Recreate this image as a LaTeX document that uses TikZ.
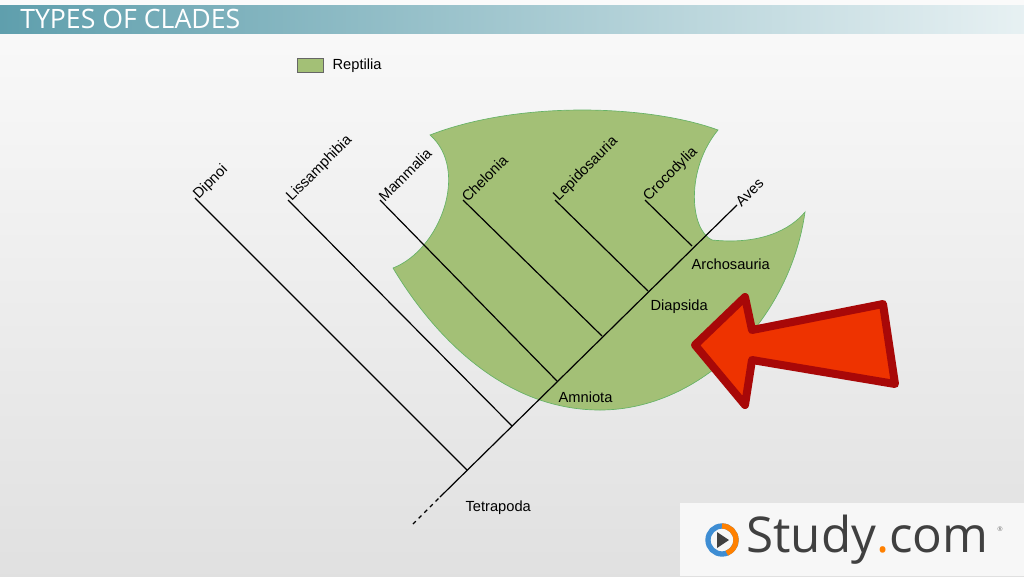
\documentclass[tikz,border=0pt]{standalone}
\usepackage{fontspec}
\setmainfont{Liberation Sans}
\newfontfamily\hdr{Open Sans}
\begin{document}
\begin{tikzpicture}[x=0.75pt,y=-0.75pt,
  br/.style={line width=0.9pt,black},
  lab/.style={font=\fontsize{11}{12}\selectfont,inner sep=1pt},
  tip/.style={lab,rotate=45,anchor=west}]
\definecolor{leaf}{HTML}{A3C076}
\definecolor{teal}{HTML}{5F9FAD}
\definecolor{arr}{HTML}{EE3300}
\definecolor{arrd}{HTML}{A80808}
\useasboundingbox (0,0) rectangle (1024,576);
\shade[top color=white!96!gray,bottom color=black!12] (0,0) rectangle (1024,576);
\shade[left color=teal,right color=teal!15!white] (0,5) rectangle (1024,33);
\node[anchor=west,text=white,font=\hdr\fontsize{20}{22}\selectfont,inner sep=0] (title) at (20,19) {TYPES OF CLADES};
% blob
\fill[leaf] (393,268) .. controls (440,250) and (470,170) .. (430,135)
 .. controls (520,100) and (650,105) .. (718,130)
 .. controls (685,170) and (690,230) .. (712,240)
 .. controls (760,245) and (790,230) .. (805,212)
 .. controls (790,320) and (700,410) .. (600,410)
 .. controls (500,410) and (430,330) .. (393,268) -- cycle;
\draw[draw=black!50!green!60,line width=0.5pt] (393,268) .. controls (440,250) and (470,170) .. (430,135)
 .. controls (520,100) and (650,105) .. (718,130)
 .. controls (685,170) and (690,230) .. (712,240)
 .. controls (760,245) and (790,230) .. (805,212)
 .. controls (790,320) and (700,410) .. (600,410)
 .. controls (500,410) and (430,330) .. (393,268) -- cycle;
% legend
\draw[fill=leaf,draw=black!60] (297,58) rectangle (323,72);
\node[lab,anchor=west] (leg) at (331,66) {Reptilia};
% tree
\coordinate (d0) at (413,524);
\coordinate (b0) at (440,497);
\coordinate (top) at (737,205);
\coordinate (n1) at (467,470);
\coordinate (n2) at (512,426);
\coordinate (n3) at (557,381);
\coordinate (n4) at (602,336);
\coordinate (n5) at (648,291);
\coordinate (n6) at (692,246);
\draw[br,dashed] (d0) -- (b0);
\draw[br] (b0) -- (top);
\node[tip] (dip) at (195,198) {Dipnoi};
\node[tip] (lis) at (288,200) {Lissamphibia};
\node[tip] (mam) at (380,200) {Mammalia};
\node[tip] (che) at (463,200) {Chelonia};
\node[tip] (lep) at (555,200) {Lepidosauria};
\node[tip] (cro) at (645,200) {Crocodylia};
\node[tip] (ave) at (737,205) {Aves};
\draw[br] (n1) -- (dip.west);
\draw[br] (n2) -- (lis.west);
\draw[br] (n3) -- (mam.west);
\draw[br] (n4) -- (che.west);
\draw[br] (n5) -- (lep.west);
\draw[br] (n6) -- (cro.west);
\node[lab,anchor=west] (arc) at (690,264) {Archosauria};
\node[lab,anchor=west] (dia) at (649,307) {Diapsida};
\node[lab,anchor=west] (amn) at (557,397) {Amniota};
\node[lab,anchor=west] (tet) at (464,508) {Tetrapoda};
% red arrow
\draw[fill=arr,draw=arrd,line width=6pt,line join=round]
 (695,345) -- (745,297) -- (752,330) -- (883,304) -- (895,384) -- (752,360) -- (745,405) -- cycle;
% logo
\fill[white!94!gray] (680,503) rectangle (1024,576);
\draw[cyan!60!blue!80!white,line width=4pt] (722,540) circle (14);
\draw[orange,line width=4pt] (722,526) arc (-90:70:14);
\fill[black!75] (717,532) -- (729,540) -- (717,548) -- cycle;
\node[anchor=west,inner sep=0,font=\hdr\fontsize{37}{40}\selectfont,text=black!75] (logo) at (746,540) {Study\textcolor{orange}{.}com};
\node[font=\fontsize{5}{5}\selectfont,text=black!60,inner sep=0] (reg) at (1000,529) {®};
\end{tikzpicture}
\end{document}
